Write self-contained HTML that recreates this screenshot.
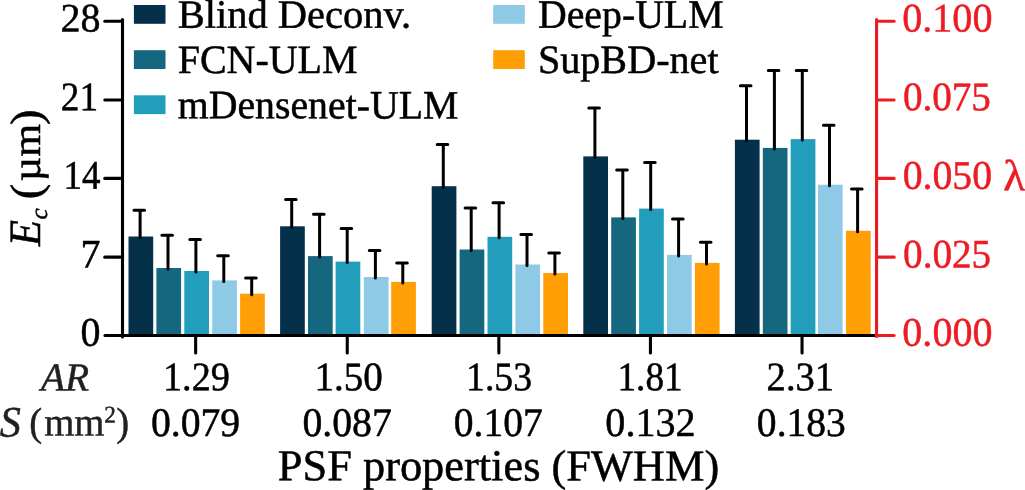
<!DOCTYPE html>
<html lang="en"><head><meta charset="utf-8"><title>PSF properties chart</title>
<style>html,body{margin:0;padding:0;background:#fff}body{width:1025px;height:490px;overflow:hidden}svg text{white-space:pre}</style></head>
<body>
<svg width="1025" height="490" viewBox="0 0 1025 490" style="display:block">
<rect width="1025" height="490" fill="#fff"/>
<g>
<rect x="128.50" y="236.50" width="24.7" height="99.00" fill="#04304a"/>
<rect x="156.40" y="268.00" width="24.7" height="67.50" fill="#15667f"/>
<rect x="184.30" y="271.00" width="24.7" height="64.50" fill="#229ebc"/>
<rect x="212.20" y="280.40" width="24.7" height="55.10" fill="#8ecae6"/>
<rect x="240.10" y="293.70" width="24.7" height="41.80" fill="#ff9f05"/>
<rect x="280.10" y="226.30" width="24.7" height="109.20" fill="#04304a"/>
<rect x="308.00" y="256.10" width="24.7" height="79.40" fill="#15667f"/>
<rect x="335.60" y="261.60" width="24.7" height="73.90" fill="#229ebc"/>
<rect x="363.80" y="277.00" width="24.7" height="58.50" fill="#8ecae6"/>
<rect x="391.20" y="281.90" width="24.7" height="53.60" fill="#ff9f05"/>
<rect x="431.70" y="186.20" width="24.7" height="149.30" fill="#04304a"/>
<rect x="459.60" y="249.50" width="24.7" height="86.00" fill="#15667f"/>
<rect x="487.50" y="236.80" width="24.7" height="98.70" fill="#229ebc"/>
<rect x="515.40" y="264.50" width="24.7" height="71.00" fill="#8ecae6"/>
<rect x="543.30" y="273.00" width="24.7" height="62.50" fill="#ff9f05"/>
<rect x="583.30" y="156.40" width="24.7" height="179.10" fill="#04304a"/>
<rect x="611.20" y="217.40" width="24.7" height="118.10" fill="#15667f"/>
<rect x="639.10" y="208.60" width="24.7" height="126.90" fill="#229ebc"/>
<rect x="667.00" y="254.90" width="24.7" height="80.60" fill="#8ecae6"/>
<rect x="694.90" y="262.90" width="24.7" height="72.60" fill="#ff9f05"/>
<rect x="734.90" y="139.70" width="24.7" height="195.80" fill="#04304a"/>
<rect x="762.80" y="147.90" width="24.7" height="187.60" fill="#15667f"/>
<rect x="790.70" y="139.10" width="24.7" height="196.40" fill="#229ebc"/>
<rect x="817.90" y="184.70" width="24.7" height="150.80" fill="#8ecae6"/>
<rect x="846.00" y="230.80" width="24.7" height="104.70" fill="#ff9f05"/>
</g>
<g stroke="#000" stroke-width="3" stroke-linecap="round" fill="none">
<path d="M140.10 237.50V210.30M134.00 210.30H144.60"/>
<path d="M168.00 269.00V235.20M161.90 235.20H172.50"/>
<path d="M195.90 272.00V239.50M189.80 239.50H200.40"/>
<path d="M223.80 281.40V255.70M217.70 255.70H228.30"/>
<path d="M251.70 294.70V278.10M245.60 278.10H256.20"/>
<path d="M291.70 227.30V199.50M285.60 199.50H296.20"/>
<path d="M319.60 257.10V214.20M313.50 214.20H324.10"/>
<path d="M347.20 262.60V228.60M341.10 228.60H351.70"/>
<path d="M375.40 278.00V250.50M369.30 250.50H379.90"/>
<path d="M402.80 282.90V262.90M396.70 262.90H407.30"/>
<path d="M443.30 187.20V144.60M437.20 144.60H447.80"/>
<path d="M471.20 250.50V208.00M465.10 208.00H475.70"/>
<path d="M499.10 237.80V202.80M493.00 202.80H503.60"/>
<path d="M527.00 265.50V234.40M520.90 234.40H531.50"/>
<path d="M554.90 274.00V253.00M548.80 253.00H559.40"/>
<path d="M594.90 157.40V108.00M588.80 108.00H599.40"/>
<path d="M622.80 218.40V170.00M616.70 170.00H627.30"/>
<path d="M650.70 209.60V162.50M644.60 162.50H655.20"/>
<path d="M678.60 255.90V219.10M672.50 219.10H683.10"/>
<path d="M706.50 263.90V242.30M700.40 242.30H711.00"/>
<path d="M746.50 140.70V85.80M740.40 85.80H751.00"/>
<path d="M774.40 148.90V70.50M768.30 70.50H778.90"/>
<path d="M802.30 140.10V70.50M796.20 70.50H806.80"/>
<path d="M829.50 185.70V125.30M823.40 125.30H834.00"/>
<path d="M857.60 231.80V189.10M851.50 189.10H862.10"/>
</g>
<g stroke="#000" stroke-width="3.1" stroke-linecap="round" stroke-linejoin="round" fill="none">
<path d="M122.5 19.5V337"/>
<path d="M105 335.5H875"/>
<path d="M104.8 21.2H122"/>
<path d="M104.8 99.95H122"/>
<path d="M104.8 178.4H122"/>
<path d="M104.8 257.15H122"/>
<path d="M195.65 335.5V353.0"/>
<path d="M347.25 335.5V353.0"/>
<path d="M498.85 335.5V353.0"/>
<path d="M650.45 335.5V353.0"/>
<path d="M802.05 335.5V353.0"/>
</g>
<g stroke="#ed1c24" stroke-width="3.1" stroke-linecap="round" stroke-linejoin="round" fill="none">
<path d="M876.55 19.5V336.5"/>
<path d="M877 21.2H894.1"/>
<path d="M877 99.95H894.1"/>
<path d="M877 178.4H894.1"/>
<path d="M877 257.15H894.1"/>
<path d="M877 335.5H894.1"/>
</g>
<rect x="133.9" y="5.0" width="31.6" height="18.8" fill="#04304a"/>
<rect x="133.9" y="50.2" width="31.6" height="18.8" fill="#15667f"/>
<rect x="133.9" y="95.3" width="31.6" height="18.8" fill="#229ebc"/>
<rect x="493.2" y="5.0" width="31.6" height="18.8" fill="#8ecae6"/>
<rect x="493.2" y="50.2" width="31.6" height="18.8" fill="#ff9f05"/>
<g font-family="'Liberation Serif', serif" stroke="#000" stroke-width="0.5" stroke-linejoin="round">
<text transform="translate(60.51 31.45) rotate(0.03) scale(0.9850 1)" font-size="40.6" fill="#000" stroke="#000">28</text>
<text transform="translate(60.83 110.20) rotate(0.03) scale(0.9191 1)" font-size="40.6" fill="#000" stroke="#000">21</text>
<text transform="translate(63.51 188.65) rotate(0.03) scale(0.9105 1)" font-size="40.6" fill="#000" stroke="#000">14</text>
<text transform="translate(80.50 267.40) rotate(0.03) scale(0.9850 1)" font-size="40.6" fill="#000" stroke="#000">7</text>
<text transform="translate(80.50 345.75) rotate(0.03) scale(0.9850 1)" font-size="40.6" fill="#000" stroke="#000">0</text>
<text transform="translate(902.25 31.45) rotate(0.03) scale(0.9875 1)" font-size="40.6" fill="#ed1c24" stroke="#ed1c24">0.100</text>
<text transform="translate(902.88 110.20) rotate(0.03) scale(0.9638 1)" font-size="40.6" fill="#ed1c24" stroke="#ed1c24">0.075</text>
<text transform="translate(902.66 188.65) rotate(0.03) scale(0.9785 1)" font-size="40.6" fill="#ed1c24" stroke="#ed1c24">0.050</text>
<text transform="translate(903.08 267.40) rotate(0.03) scale(0.9650 1)" font-size="40.6" fill="#ed1c24" stroke="#ed1c24">0.025</text>
<text transform="translate(902.35 345.75) rotate(0.03) scale(0.9863 1)" font-size="40.6" fill="#ed1c24" stroke="#ed1c24">0.000</text>
<text transform="translate(1003.29 190.20) rotate(0.03) scale(1.1307 1.09)" font-size="40" fill="#ed1c24" stroke="#ed1c24">λ</text>
<text transform="translate(177.77 27.70) rotate(0.03) scale(1.0049 1)" font-size="40.3" fill="#000" stroke="#000">Blind Deconv.</text>
<text transform="translate(177.78 73.00) rotate(0.03) scale(0.9913 1)" font-size="40.3" fill="#000" stroke="#000">FCN-ULM</text>
<text transform="translate(177.78 118.30) rotate(0.03) scale(0.9871 1)" font-size="40.3" fill="#000" stroke="#000">mDensenet-ULM</text>
<text transform="translate(537.98 27.70) rotate(0.03) scale(0.9871 1)" font-size="40.3" fill="#000" stroke="#000">Deep-ULM</text>
<text transform="translate(537.89 73.00) rotate(0.03) scale(0.9963 1)" font-size="40.3" fill="#000" stroke="#000">SupBD-net</text>
<text transform="translate(41.06 390.55) rotate(0.03) scale(0.9917 1)" font-size="39.7" fill="#231f20" stroke="#231f20" font-style="italic">AR</text>
<text transform="translate(163.01 390.25) rotate(0.03) scale(0.9413 1)" font-size="40.6" fill="#000" stroke="#000">1.29</text>
<text transform="translate(150.96 435.95) rotate(0.03) scale(0.9762 1)" font-size="40.6" fill="#000" stroke="#000">0.079</text>
<text transform="translate(314.45 390.25) rotate(0.03) scale(0.9608 1)" font-size="40.6" fill="#000" stroke="#000">1.50</text>
<text transform="translate(302.46 435.95) rotate(0.03) scale(0.9782 1)" font-size="40.6" fill="#000" stroke="#000">0.087</text>
<text transform="translate(466.05 390.25) rotate(0.03) scale(0.9293 1)" font-size="40.6" fill="#000" stroke="#000">1.53</text>
<text transform="translate(453.76 435.95) rotate(0.03) scale(0.9749 1)" font-size="40.6" fill="#000" stroke="#000">0.107</text>
<text transform="translate(617.49 390.25) rotate(0.03) scale(0.9170 1)" font-size="40.6" fill="#000" stroke="#000">1.81</text>
<text transform="translate(605.35 435.95) rotate(0.03) scale(0.9878 1)" font-size="40.6" fill="#000" stroke="#000">0.132</text>
<text transform="translate(766.59 390.25) rotate(0.03) scale(0.9502 1)" font-size="40.6" fill="#000" stroke="#000">2.31</text>
<text transform="translate(756.86 435.95) rotate(0.03) scale(0.9740 1)" font-size="40.6" fill="#000" stroke="#000">0.183</text>
<text transform="translate(40 247) rotate(-90) translate(0.87 0.00) rotate(0.03) scale(1.0103 1.05)" font-size="42.6" fill="#000" stroke="#000" font-style="italic">E</text>
<text transform="translate(40 247) rotate(-90) translate(27.51 7.10) rotate(0.03) scale(1.0469 1)" font-size="24" fill="#000" stroke="#000" font-style="italic">c</text>
<text transform="translate(40 247) rotate(-90) translate(47.76 0.80) rotate(0.03) scale(1.1556 1.1)" font-size="40" fill="#000" stroke="#000">(</text>
<text transform="translate(40 247) rotate(-90) translate(65.78 0.00) rotate(0.03) scale(1.0568 1)" font-size="40" fill="#000" stroke="#000">µm</text>
<text transform="translate(40 247) rotate(-90) translate(122.05 0.80) rotate(0.03) scale(1.1576 1.1)" font-size="40" fill="#000" stroke="#000">)</text>
<text transform="translate(277.81 480.25) rotate(0.03) scale(1.0067 1)" font-size="44.1" fill="#000" stroke="#000">PSF properties (FWHM)</text>
<text transform="translate(-0.3 435.55) rotate(0.03) scale(0.969 1)" font-size="40" fill="#231f20" stroke="#231f20"><tspan font-style="italic" font-size="43.5" dy="1.0">S</tspan><tspan dy="-1.0" dx="-1.2"> (</tspan><tspan dx="2">mm</tspan><tspan font-size="24" dy="-13.2" dx="-0.2">2</tspan><tspan dy="13.2" dx="0.4">)</tspan></text>
</g>
</svg>
</body></html>
